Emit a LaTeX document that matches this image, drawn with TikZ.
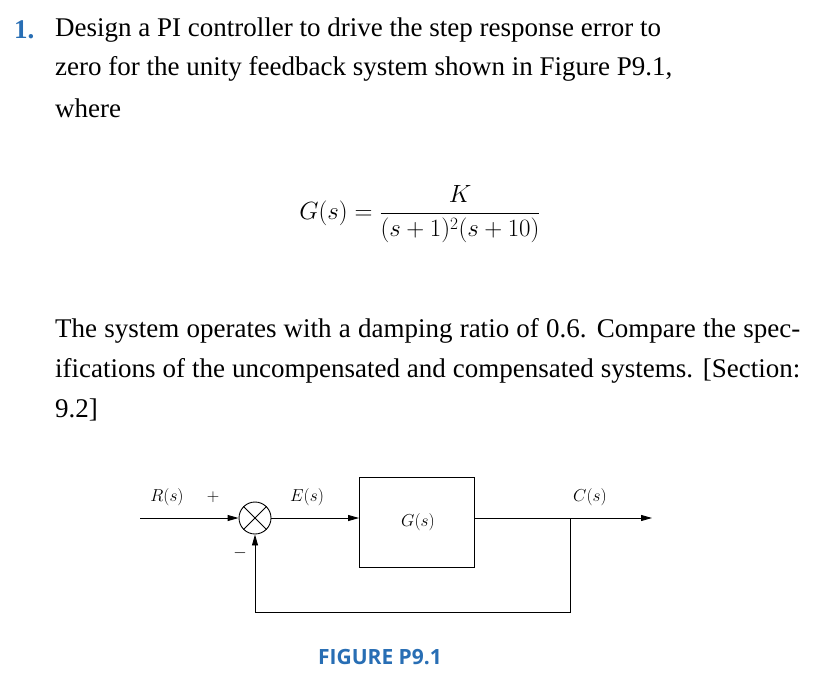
\documentclass[tikz,border=0pt]{standalone}
\usepackage{fontspec}
\setmainfont{Liberation Serif}
\setsansfont{Open Sans}
\usetikzlibrary{arrows.meta}
\definecolor{pblue}{RGB}{40,110,180}
\begin{document}
\begin{tikzpicture}[x=1pt,y=-1pt,
  txt/.style={anchor=west,inner sep=0pt,font=\fontsize{27}{40}\selectfont},
  lbl/.style={inner sep=0pt,font=\fontsize{19}{22}\selectfont},
  sig/.style={line width=0.9pt},
  arr/.style={sig,-{Triangle[length=11pt,width=6pt]}}]
\useasboundingbox (0,0) rectangle (832,683);
\node[txt,text=pblue,font=\fontsize{27}{40}\selectfont\bfseries] (num) at (14,30) {1.};
\node[txt] (l1) at (55,30) {Design a PI controller to drive the step response error to};
\node[txt] (l2) at (55,69) {zero for the unity feedback system shown in Figure P9.1,};
\node[txt] (l3) at (55,108) {where};
\node[inner sep=0pt,font=\fontsize{26}{30}\selectfont] (eq) at (420,214) {$\displaystyle G(s)=\frac{K}{(s+1)^2(s+10)}$};
\node[txt,text width=745pt,align=justify,anchor=north west] (par) at (55,318) {The system operates with a damping ratio of 0.6. Compare the specifications of the uncompensated and compensated systems. [Section: 9.2]};
% block diagram
\node[draw,circle,sig,minimum size=32pt,inner sep=0pt] (sum) at (255,518) {};
\draw[sig] (sum.45) -- (sum.225) (sum.135) -- (sum.315);
\node[draw,sig,minimum width=115pt,minimum height=90pt,inner sep=0pt] (G) at (417,522) {};
\node[lbl] (gl) at (418,522) {$G(s)$};
\coordinate (in) at (140,518);
\coordinate (out) at (652,518);
\coordinate (br) at (570,518);
\coordinate (fb1) at (570,612);
\coordinate (fb2) at (255,612);
\draw[arr] (in) -- (sum.west);
\draw[arr] (sum.east) -- (G.west |- sum.east);
\draw[arr] (G.east |- out) -- (out);
\draw[sig] (br) -- (fb1) -- (fb2);
\draw[arr] (fb2) -- (sum.south);
\node[lbl] (rl) at (167,497) {$R(s)$};
\node[lbl] (pl) at (213,497) {$+$};
\node[lbl] (el) at (307,497) {$E(s)$};
\node[lbl] (cl) at (590,497) {$C(s)$};
\node[lbl] (ml) at (240,553) {$-$};
\node[text=pblue,inner sep=0pt,font=\sffamily\bfseries\fontsize{21}{24}\selectfont] (fig) at (380,657) {FIGURE P9.1};
\end{tikzpicture}
\end{document}
